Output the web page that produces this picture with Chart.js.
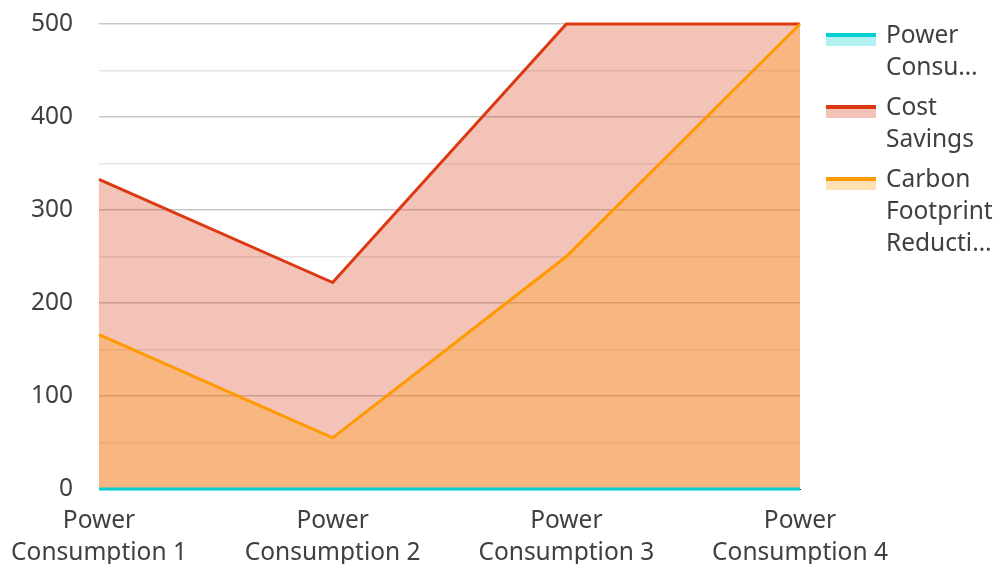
<!DOCTYPE html>
<html>
<head>
<meta charset="utf-8">
<script src="https://cdn.jsdelivr.net/npm/chart.js@4/dist/chart.umd.min.js"></script>
<style>
html,body{margin:0;padding:0;background:#fff;}
#wrap{width:998px;height:564px;}
</style>
</head>
<body>
<div id="wrap"><canvas id="c" width="998" height="564"></canvas></div>
<script>
const categories = [["Power","Consumption 1"],["Power","Consumption 2"],["Power","Consumption 3"],["Power","Consumption 4"]];
const seriesNames = ["Power Consumption","Cost Savings","Carbon Footprint Reduction"];
const powerConsumption = [0, 0, 0, 0];
const costSavings = [333, 222, 500, 500];
const carbonReduction = [166, 55, 250, 500];
const yTicks = [0, 100, 200, 300, 400, 500];

const colors = ["#00CED1", "#DC3912", "#FF9900"];
const fills = ["rgba(0,206,209,0.3)", "rgba(220,57,18,0.3)", "rgba(255,153,0,0.3)"];
const drawOrder = [0, 2, 1];
const FONT = "'Noto Sans', 'Open Sans', sans-serif";
const FS = 24.5;
const TEXT = "#404040";

function wrapText(ctx, text, maxW) {
  const words = text.split(" ");
  const lines = [];
  let cur = "";
  for (const w of words) {
    const test = cur ? cur + " " + w : w;
    if (ctx.measureText(test).width <= maxW) { cur = test; continue; }
    if (cur) lines.push(cur);
    cur = w;
  }
  if (cur) lines.push(cur);
  return lines.map(l => {
    if (ctx.measureText(l).width <= maxW) return l;
    let s = l;
    while (s.length > 1 && ctx.measureText(s + "…").width > maxW) s = s.slice(0, -1);
    return s + "…";
  });
}

const legendPlugin = {
  id: "sideLegend",
  afterDraw(chart) {
    const ctx = chart.ctx;
    ctx.save();
    ctx.font = FS + "px " + FONT;
    ctx.textBaseline = "middle";
    ctx.textAlign = "left";
    let y = 36;
    const boxX = 826, boxW = 50, textX = 886, lh = 32, maxW = 110;
    chart.data.datasets.forEach((ds, i) => {
      ctx.fillStyle = ds.backgroundColor;
      ctx.fillRect(boxX, y - 2, boxW, 12);
      ctx.fillStyle = ds.borderColor;
      ctx.fillRect(boxX, y - 3, boxW, 4);
      const lines = wrapText(ctx, ds.label, maxW);
      ctx.fillStyle = TEXT;
      lines.forEach((l, k) => ctx.fillText(l, textX, y + k * lh));
      y += lines.length * lh + 8;
    });
    ctx.restore();
  }
};

const mk = (label, data, i) => ({
  label, data,
  order: drawOrder[i],
  borderColor: colors[i],
  backgroundColor: fills[i],
  borderWidth: 3,
  fill: "origin",
  pointRadius: 0,
  tension: 0,
  clip: false
});

new Chart(document.getElementById("c"), {
  type: "line",
  data: {
    labels: categories,
    datasets: [
      mk(seriesNames[0], powerConsumption, 0),
      mk(seriesNames[1], costSavings, 1),
      mk(seriesNames[2], carbonReduction, 2)
    ]
  },
  options: {
    responsive: false,
    animation: false,
    layout: { padding: { left: 0, right: 198, top: 24, bottom: 0 } },
    plugins: { legend: { display: false }, tooltip: { enabled: false } },
    scales: {
      x: {
        offset: false,
        grid: { display: false, drawTicks: false },
        border: { display: true, color: "#222", width: 1 },
        ticks: {
          color: TEXT, padding: 16, maxRotation: 0, autoSkip: false,
          font: { family: FONT, size: FS, lineHeight: 32 / FS }
        },
        afterFit(s) { s.height = 75; s.paddingLeft = 0; s.paddingRight = 0; s.paddingTop = 0; s.paddingBottom = 0; }
      },
      y: {
        min: 0, max: 500,
        ticks: {
          stepSize: 50, color: TEXT, padding: 26,
          font: { family: FONT, size: FS },
          callback: v => yTicks.includes(v) ? String(v) : ""
        },
        grid: {
          drawTicks: false,
          color: c => (c.tick && c.tick.value % 100 === 0) ? "#c8c8c8" : "#e6e6e6",
          lineWidth: 1.5
        },
        border: { display: false },
        afterFit(s) { s.width = 99; s.paddingLeft = 0; s.paddingRight = 0; s.paddingTop = 0; s.paddingBottom = 0; }
      }
    }
  },
  plugins: [legendPlugin]
});
</script>
</body>
</html>
